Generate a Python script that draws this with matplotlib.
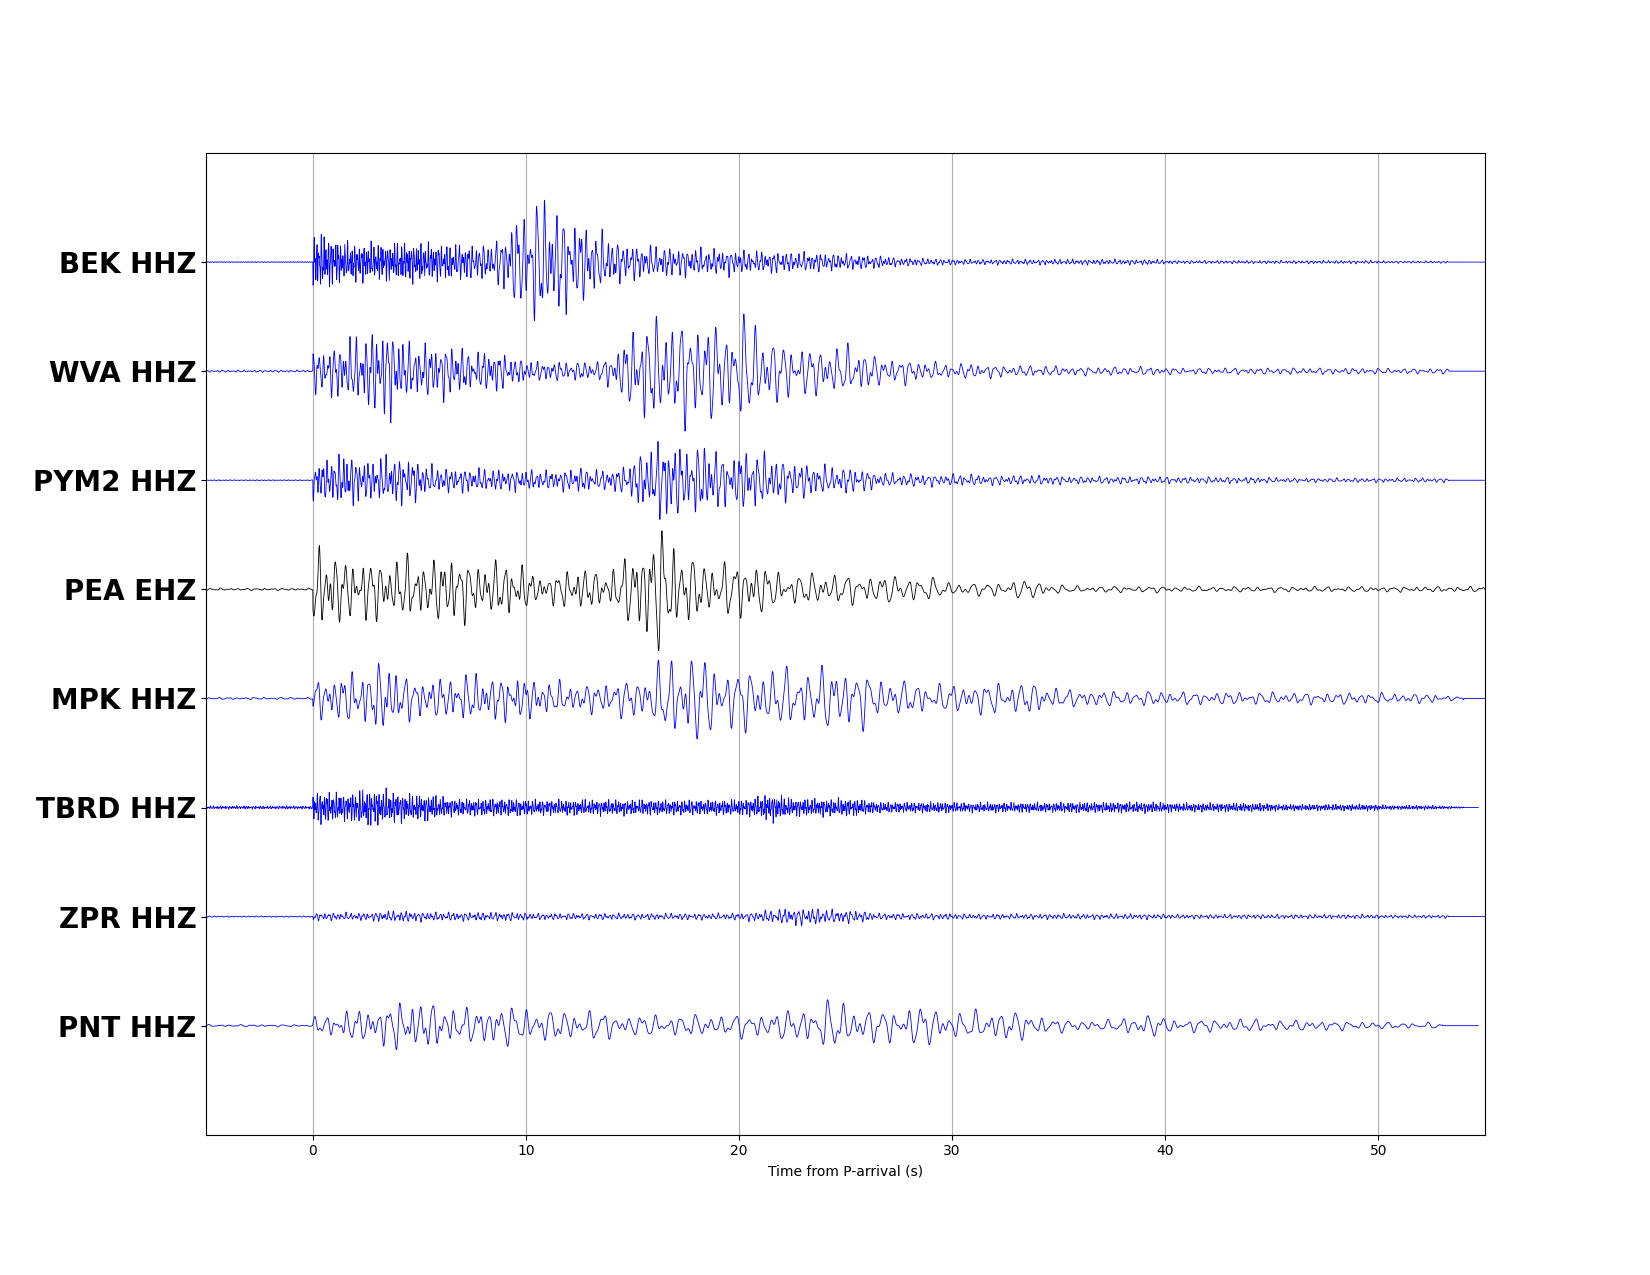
"""
Record section: vertical-component traces aligned on the P arrival.
"""
import numpy as np
import matplotlib
matplotlib.use("Agg")
import matplotlib.pyplot as plt

# station labels, top to bottom
stations = ["BEK HHZ", "WVA HHZ", "PYM2 HHZ", "PEA EHZ",
            "MPK HHZ", "TBRD HHZ", "ZPR HHZ", "PNT HHZ"]
colors = ["b", "b", "b", "k", "b", "b", "b", "b"]

# peak amplitude (trace spacing = 1) in 1 s bins from 0 to 55 s
bek_amp = [0.25, 0.18, 0.17, 0.17, 0.18, 0.17, 0.17, 0.16, 0.17, 0.40,
           0.60, 0.50, 0.38, 0.27, 0.18, 0.15, 0.14, 0.13, 0.12, 0.12,
           0.10, 0.10, 0.09, 0.09, 0.08, 0.07, 0.06, 0.04, 0.035, 0.03] + [0.025] * 10 + [0.015] * 10 + [0.01] * 5
wva_amp = [0.20, 0.28, 0.34, 0.45, 0.25, 0.25, 0.25, 0.17, 0.20, 0.12,
           0.09, 0.09, 0.09, 0.09, 0.25, 0.50, 0.45, 0.50, 0.47, 0.42,
           0.50, 0.30, 0.25, 0.22, 0.22, 0.23, 0.13, 0.12, 0.10, 0.07,
           0.07, 0.07, 0.05, 0.05, 0.05] + [0.04] * 5 + [0.03] * 10 + [0.025] * 5
pym2_amp = [0.18, 0.25, 0.18, 0.22, 0.22, 0.13, 0.11, 0.11, 0.10, 0.10,
            0.09, 0.09, 0.12, 0.09, 0.12, 0.27, 0.40, 0.30, 0.33, 0.22,
            0.29, 0.22, 0.18, 0.15, 0.12, 0.12, 0.07, 0.06, 0.06, 0.05,
            0.06] + [0.045] * 4 + [0.035] * 5 + [0.03] * 5 + [0.02] * 10
pea_amp = [0.42, 0.27, 0.30, 0.25, 0.30, 0.25, 0.36, 0.24, 0.25, 0.27,
           0.12, 0.15, 0.22, 0.15, 0.25, 0.48, 0.60, 0.32, 0.25, 0.25,
           0.30, 0.18, 0.14, 0.15, 0.15, 0.13, 0.14, 0.12, 0.13, 0.08,
           0.06, 0.06, 0.08, 0.09, 0.06] + [0.03] * 5 + [0.025] * 15
mpk_amp = [0.19, 0.23, 0.27, 0.35, 0.20, 0.18, 0.20, 0.23, 0.20, 0.22,
           0.17, 0.15, 0.12, 0.15, 0.17, 0.20, 0.35, 0.42, 0.38, 0.27,
           0.30, 0.27, 0.28, 0.28, 0.31, 0.29, 0.20, 0.16, 0.15, 0.13,
           0.14, 0.15, 0.15, 0.15, 0.12, 0.08, 0.08, 0.07, 0.07, 0.07] + [0.06] * 5 + [0.055] * 5 + [0.045, 0.045, 0.045, 0.02, 0.01]
tbrd_amp = [0.15, 0.12, 0.17, 0.15, 0.12, 0.12, 0.08, 0.08, 0.08, 0.08] + [0.07] * 10 + \
           [0.08, 0.13, 0.08, 0.08, 0.08, 0.08, 0.05, 0.05, 0.05, 0.05] + [0.045] * 5 + [0.05] * 5 + \
           [0.04] * 5 + [0.03] * 5 + [0.02, 0.02, 0.02, 0.01, 0.005]
zpr_amp = [0.035, 0.035, 0.035, 0.05, 0.05, 0.04, 0.04, 0.04, 0.04, 0.04] + [0.03] * 10 + \
          [0.04, 0.06, 0.08, 0.08, 0.06, 0.06, 0.03, 0.03, 0.03, 0.03] + [0.025] * 10 + [0.02] * 10 + [0.015] * 5
pnt_amp = [0.08, 0.14, 0.15, 0.20, 0.25, 0.21, 0.18, 0.16, 0.20, 0.18,
           0.16, 0.14, 0.14, 0.14, 0.10, 0.10, 0.10, 0.10, 0.10, 0.10,
           0.12, 0.12, 0.15, 0.18, 0.25, 0.17, 0.15, 0.17, 0.20, 0.15,
           0.12, 0.14, 0.15, 0.12, 0.08, 0.05, 0.05, 0.05, 0.10, 0.10] + [0.06] * 5 + [0.05, 0.05, 0.05, 0.04, 0.04] + [0.03, 0.03, 0.03, 0.01, 0.005]

# noise level before the P arrival, start of the flat tail, end of record (s)
pre_noise = [0.004, 0.01, 0.005, 0.01, 0.01, 0.015, 0.006, 0.01]
flat_from = [53.3, 53.3, 53.3, 56.0, 54.0, 54.0, 53.3, 53.0]
trace_end = [55.5, 55.5, 55.5, 55.5, 55.5, 54.7, 55.5, 54.7]

# dominant frequency (Hz) at these times
freq_t = [0, 5, 10, 15, 20, 30, 55]
bek_freq = [9.0, 9.0, 3.0, 4.5, 5.0, 5.0, 5.0]
wva_freq = [4.0, 4.0, 4.0, 2.8, 2.2, 2.5, 2.5]
pym2_freq = [5.5, 4.5, 4.5, 3.8, 3.5, 3.5, 3.5]
pea_freq = [2.4, 2.4, 2.4, 2.2, 2.0, 1.6, 2.0]
mpk_freq = [2.4, 2.4, 2.6, 2.0, 1.8, 1.8, 2.0]
tbrd_freq = [9.0, 9.0, 9.0, 9.0, 9.0, 9.0, 9.0]
zpr_freq = [5.0, 5.0, 5.0, 4.5, 4.5, 4.5, 4.5]
pnt_freq = [2.0, 2.0, 1.7, 1.6, 1.6, 1.6, 1.6]

amps = [bek_amp, wva_amp, pym2_amp, pea_amp, mpk_amp, tbrd_amp, zpr_amp, pnt_amp]
freqs = [bek_freq, wva_freq, pym2_freq, pea_freq, mpk_freq, tbrd_freq, zpr_freq, pnt_freq]

dt = 0.01
bin_centers = np.arange(55) + 0.5


def make_trace(k):
    t = np.arange(-5.5, trace_end[k], dt)
    f = np.interp(t, freq_t, freqs[k])
    ph = 2 * np.pi * np.cumsum(f) * dt
    p0 = 0.9 * k
    wiggle = (np.sin(ph + p0) + 0.6 * np.sin(1.618 * ph + 1.3 + p0)
              + 0.45 * np.sin(0.713 * ph + 2.1 + 2 * p0) + 0.35 * np.sin(2.414 * ph + 0.4 + p0))
    wiggle /= 2.0
    env = np.interp(t, bin_centers, amps[k])
    env[t < 0] = pre_noise[k]
    env[t >= flat_from[k]] = 0.0
    return t, env * wiggle


fig, ax = plt.subplots(figsize=(16.5, 12.75), dpi=100)

offsets = np.arange(len(stations), 0, -1)
for k, name in enumerate(stations):
    t, y = make_trace(k)
    ax.plot(t, y + offsets[k], color=colors[k], linewidth=0.6)

ax.set_yticks(offsets)
ax.set_yticklabels(stations, fontsize=20, fontweight="bold")
ax.set_ylim(0, len(stations) + 1)
ax.set_xlim(-5, 55)
ax.set_xlabel("Time from P-arrival (s)")
ax.xaxis.grid(True)

plt.savefig("out.png", dpi=100)
